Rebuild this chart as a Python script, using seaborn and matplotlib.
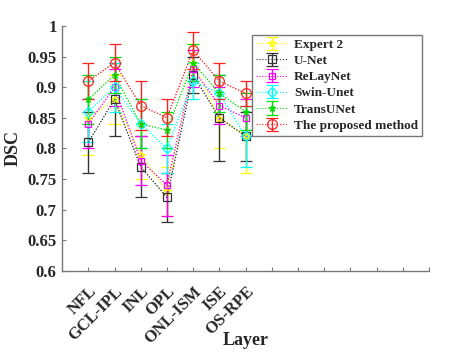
import seaborn as sns
import matplotlib.pyplot as plt
import numpy as np
import pandas as pd

# layers on the x axis
layers = ["NFL", "GCL-IPL", "INL", "OPL", "ONL-ISM", "ISE", "OS-RPE"]

# mean DSC per method
expert2 = [0.85, 0.88, 0.79, 0.73, 0.94, 0.85, 0.82]
unet = [0.81, 0.88, 0.77, 0.72, 0.92, 0.85, 0.82]
relaynet = [0.84, 0.90, 0.78, 0.74, 0.93, 0.87, 0.85]
swinunet = [0.86, 0.90, 0.84, 0.80, 0.91, 0.89, 0.82]
transunet = [0.88, 0.92, 0.84, 0.83, 0.94, 0.89, 0.86]
proposed = [0.91, 0.94, 0.87, 0.85, 0.96, 0.91, 0.89]

# std (error bar half length)
expert2_err = [0.06, 0.04, 0.04, 0.04, 0.03, 0.05, 0.06]
unet_err = [0.05, 0.06, 0.05, 0.04, 0.03, 0.07, 0.04]
relaynet_err = [0.04, 0.03, 0.04, 0.05, 0.03, 0.03, 0.03]
swinunet_err = [0.05, 0.04, 0.04, 0.04, 0.03, 0.03, 0.05]
transunet_err = [0.04, 0.03, 0.04, 0.03, 0.03, 0.03, 0.03]
proposed_err = [0.03, 0.03, 0.04, 0.03, 0.03, 0.03, 0.02]

methods = ["Expert 2", "U-Net", "ReLayNet", "Swin-Unet", "TransUNet", "The proposed method"]
means = [expert2, unet, relaynet, swinunet, transunet, proposed]
errs = [expert2_err, unet_err, relaynet_err, swinunet_err, transunet_err, proposed_err]
colors = ["#ffff00", "#333333", "#ff00ff", "#00ffff", "#00e000", "#ff2020"]
markers = ["*", "s", "s", "D", "*", "o"]
msizes = [6, 6, 5, 5, 5, 7]

rows = []
for m, vals, ee in zip(methods, means, errs):
    for i, (v, e) in enumerate(zip(vals, ee)):
        rows.append({"method": m, "pos": i + 1, "layer": layers[i], "DSC": v, "err": e})
df = pd.DataFrame(rows)

sns.set_style("white")
plt.rcParams["font.family"] = ["Liberation Serif", "DejaVu Serif"]
plt.rcParams["font.weight"] = "bold"

fig = plt.figure(figsize=(4.74, 3.55), dpi=100)
ax = fig.add_axes([0.131, 0.237, 0.774, 0.690])

for m, c, mk, ms in zip(methods, colors, markers, msizes):
    d = df[df["method"] == m]
    sns.lineplot(data=d, x="pos", y="DSC", ax=ax, color=c, linestyle=":",
                 linewidth=0.8, alpha=0.8, legend=False)
    ax.errorbar(d["pos"], d["DSC"], yerr=d["err"], color=c, linestyle=":",
                linewidth=0.8, elinewidth=1.0, capsize=4, capthick=1.0,
                marker=mk, markersize=ms, markerfacecolor="none",
                markeredgecolor=c, markeredgewidth=0.9, label=m)

ax.set_xlim(0, 14)
ax.set_ylim(0.6, 1.0)
ax.set_xticks(range(1, 15))
ax.set_xticklabels(layers + [""] * 7, rotation=45, ha="right",
                   rotation_mode="anchor", fontsize=12, fontweight="bold")
yt = np.arange(0.6, 1.001, 0.05)
ax.set_yticks(yt)
ax.set_yticklabels(["%g" % round(v, 2) for v in yt], fontsize=12, fontweight="bold")
ax.tick_params(axis="both", direction="in", length=3, color="#777777",
               bottom=True, left=True, pad=4)
ax.tick_params(axis="x", pad=9)
for s in ["top", "right"]:
    ax.spines[s].set_visible(False)
for s in ["left", "bottom"]:
    ax.spines[s].set_color("#777777")
    ax.spines[s].set_linewidth(1.0)

ax.set_xlabel("Layer", fontsize=13, fontweight="bold")
ax.set_ylabel("DSC", fontsize=13, fontweight="bold")
ax.xaxis.set_label_coords(0.50, -0.25)

leg = ax.legend(loc="upper left", bbox_to_anchor=(0.51, 0.975), fontsize=9.5,
                frameon=True, fancybox=False, edgecolor="#555555",
                handlelength=2.4, borderpad=0.3, labelspacing=0.3,
                handletextpad=0.5, borderaxespad=0.2)
leg.get_frame().set_linewidth(1.0)
for t in leg.get_texts():
    t.set_fontweight("bold")

fig.savefig("out.png", dpi=100)
